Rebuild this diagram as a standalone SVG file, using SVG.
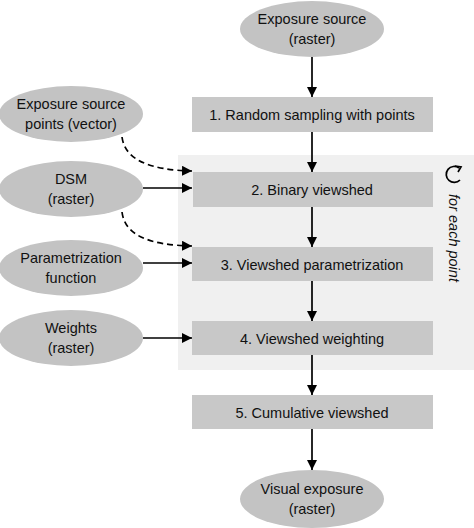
<svg xmlns="http://www.w3.org/2000/svg" width="474" height="528" viewBox="0 0 474 528">
<defs>
<style>
.ell{fill:#c3c3c3}
.box{fill:#c8c8c8}
text{font-family:"Liberation Sans",Arial,sans-serif;font-size:14.5px;fill:#111;text-anchor:middle}
.ln{stroke:#000;stroke-width:1.7;fill:none}
.dash{stroke-dasharray:6,4}
</style>
<marker id="ah" viewBox="0 0 10 10" refX="10" refY="5" markerWidth="10" markerHeight="10" markerUnits="userSpaceOnUse" orient="auto"><path d="M0,0L10,5L0,10z" fill="#000"/></marker>
</defs>
<rect width="474" height="528" fill="#fff"/>
<g id="loop">
<rect x="178" y="155" width="296" height="215" fill="#f0f0f0"/>
<path d="M459,168 A8,8 0 1,0 460,180" class="ln" stroke-width="1.5"/>
<path d="M455,166 L461,167 L458,172" class="ln" stroke-width="1.5"/>
<text transform="translate(449,238) rotate(90)" font-style="italic">for each point</text>
</g>
<g id="n_exp"><ellipse class="ell" cx="312" cy="29" rx="72" ry="28"/><text x="312" y="24">Exposure source</text><text x="312" y="44">(raster)</text></g>
<g id="n_pts"><ellipse class="ell" cx="71" cy="114" rx="72" ry="28"/><text x="71" y="109">Exposure source</text><text x="71" y="129">points (vector)</text></g>
<g id="n_dsm"><ellipse class="ell" cx="71" cy="189" rx="72" ry="28"/><text x="71" y="184">DSM</text><text x="71" y="204">(raster)</text></g>
<g id="n_par"><ellipse class="ell" cx="71" cy="268" rx="72" ry="28"/><text x="71" y="263">Parametrization</text><text x="71" y="283">function</text></g>
<g id="n_wts"><ellipse class="ell" cx="71" cy="338" rx="72" ry="28"/><text x="71" y="333">Weights</text><text x="71" y="353">(raster)</text></g>
<g id="b1"><rect class="box" x="192" y="97" width="241" height="35"/><text x="312" y="120">1. Random sampling with points</text></g>
<g id="b2"><rect class="box" x="193" y="172" width="240" height="35"/><text x="312" y="195">2. Binary viewshed</text></g>
<g id="b3"><rect class="box" x="192" y="247" width="241" height="34"/><text x="312" y="270">3. Viewshed parametrization</text></g>
<g id="b4"><rect class="box" x="192" y="321" width="241" height="34"/><text x="312" y="344">4. Viewshed weighting</text></g>
<g id="b5"><rect class="box" x="192" y="395" width="241" height="34"/><text x="312" y="418">5. Cumulative viewshed</text></g>
<g id="n_vis"><ellipse class="ell" cx="312" cy="499" rx="72" ry="29"/><text x="312" y="494">Visual exposure</text><text x="312" y="514">(raster)</text></g>
<g id="connectors">
<line class="ln" x1="312" y1="57" x2="312" y2="97" marker-end="url(#ah)"/>
<line class="ln" x1="312" y1="132" x2="312" y2="172" marker-end="url(#ah)"/>
<line class="ln" x1="312" y1="207" x2="312" y2="247" marker-end="url(#ah)"/>
<line class="ln" x1="312" y1="281" x2="312" y2="321" marker-end="url(#ah)"/>
<line class="ln" x1="312" y1="355" x2="312" y2="395" marker-end="url(#ah)"/>
<line class="ln" x1="312" y1="429" x2="312" y2="470" marker-end="url(#ah)"/>
<line class="ln" x1="143" y1="188" x2="192" y2="188" marker-end="url(#ah)"/>
<line class="ln" x1="143" y1="263" x2="192" y2="263" marker-end="url(#ah)"/>
<line class="ln" x1="143" y1="338" x2="192" y2="338" marker-end="url(#ah)"/>
<path class="ln dash" d="M122,137 C125,160 150,170 192,171" marker-end="url(#ah)"/>
<path class="ln dash" d="M122,212 C125,236 150,245 192,246" marker-end="url(#ah)"/>
</g>
</svg>
